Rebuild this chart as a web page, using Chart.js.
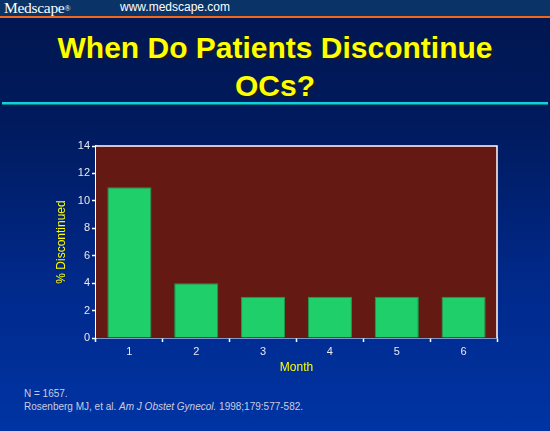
<!DOCTYPE html>
<html>
<head>
<meta charset="utf-8">
<script src="https://cdn.jsdelivr.net/npm/chart.js@4"></script>
<style>
  html, body { margin: 0; padding: 0; }
  body {
    width: 550px; height: 431px; overflow: hidden; position: relative;
    background: linear-gradient(to bottom, #001650 0px, #001a5c 120px, #00298a 280px, #0034a4 431px);
    font-family: Arial, "Liberation Sans", sans-serif;
  }
  #header { position: absolute; left: 0; top: 0; width: 550px; height: 16px; background: #0a3468; border-bottom: 2px solid #f06818; }
  #logo { position: absolute; left: 4px; top: -1px; font-family: "Liberation Serif", "Times New Roman", serif; font-size: 15.5px; color: #fff; letter-spacing: -0.3px; }
  #logo sup { font-size: 8px; vertical-align: 2px; }
  #site { position: absolute; left: 120px; top: 0px; font-size: 12px; color: #fff; }
  #title { position: absolute; left: 0; top: 29px; width: 550px; text-align: center; font-weight: bold; font-size: 30px; line-height: 38px; color: #ffff00; text-shadow: 2px 2px 0 #1a1a1a; }
  #rule { position: absolute; left: 2px; top: 102px; width: 546px; height: 2px; background: #10d0e0; border-bottom: 1px solid #00808a; }
  #notes { position: absolute; left: 24px; top: 388px; font-size: 10px; line-height: 12.5px; color: #c8cce0; }
  canvas { position: absolute; left: 0; top: 0; }
</style>
</head>
<body>
<div id="header"><span id="logo">Medscape<sup>®</sup></span><span id="site">www.medscape.com</span></div>
<div id="title">When Do Patients Discontinue<br>OCs?</div>
<div id="rule"></div>
<div id="notes">N = 1657.<br>Rosenberg MJ, et al. <i>Am J Obstet Gynecol.</i> 1998;179:577-582.</div>
<canvas id="chart" width="550" height="431"></canvas>
<script>
/* ----------------------------- */
/* DATA                          */
/* ----------------------------- */
const months = ["1", "2", "3", "4", "5", "6"];
const discontinued = [11, 4, 3, 3, 3, 3];
const yMax = 14;
const yStep = 2;

/* ----------------------------- */
/* PLOT BACKGROUND + FRAME       */
/* ----------------------------- */
const plotFrame = {
  id: "plotFrame",
  beforeDatasetsDraw: (chart) => {
    const { ctx, chartArea: a } = chart;
    ctx.save();
    ctx.fillStyle = "#641a12";
    ctx.fillRect(a.left, a.top, a.right - a.left, a.bottom - a.top);
    ctx.restore();
  },
  afterDraw: (chart) => {
    const { ctx, chartArea: a } = chart;
    ctx.save();
    ctx.strokeStyle = "#ffffff";
    ctx.lineWidth = 1.5;
    ctx.beginPath();
    ctx.moveTo(a.left, a.top);
    ctx.lineTo(a.right, a.top);
    ctx.lineTo(a.right, a.bottom);
    ctx.stroke();
    ctx.restore();
  },
};

Chart.defaults.font.family = "Arial, 'Liberation Sans', sans-serif";

new Chart(document.getElementById("chart"), {
  type: "bar",
  data: {
    labels: months,
    datasets: [
      {
        data: discontinued,
        backgroundColor: "#1ecf6a",
        borderColor: "#15a050",
        borderWidth: 1,
        categoryPercentage: 0.66,
        barPercentage: 1,
      },
    ],
  },
  options: {
    responsive: false,
    animation: false,
    layout: { padding: { left: 54, top: 146, right: 53, bottom: 56 } },
    plugins: { legend: { display: false }, tooltip: { enabled: false } },
    scales: {
      x: {
        offset: true,
        grid: { offset: true, drawOnChartArea: false, color: "#ffffff", tickLength: 4, tickWidth: 1.5 },
        border: { color: "#ffffff", width: 1.5 },
        ticks: { color: "#e8e8f0", font: { size: 11 }, padding: 3 },
        title: { display: true, text: "Month", color: "#ffff00", font: { size: 12 }, padding: 0 },
        afterFit: (scale) => { scale.height = 37; },
      },
      y: {
        min: 0,
        max: yMax,
        grid: { drawOnChartArea: false, color: "#ffffff", tickLength: 4, tickWidth: 1.5 },
        border: { color: "#ffffff", width: 1.5 },
        ticks: { stepSize: yStep, color: "#e8e8f0", font: { size: 11 }, padding: 2 },
        title: { display: true, text: "% Discontinued", color: "#ffff00", font: { size: 12 }, padding: 0 },
        afterFit: (scale) => { scale.width = 42; },
      },
    },
  },
  plugins: [plotFrame],
});
</script>
</body>
</html>
